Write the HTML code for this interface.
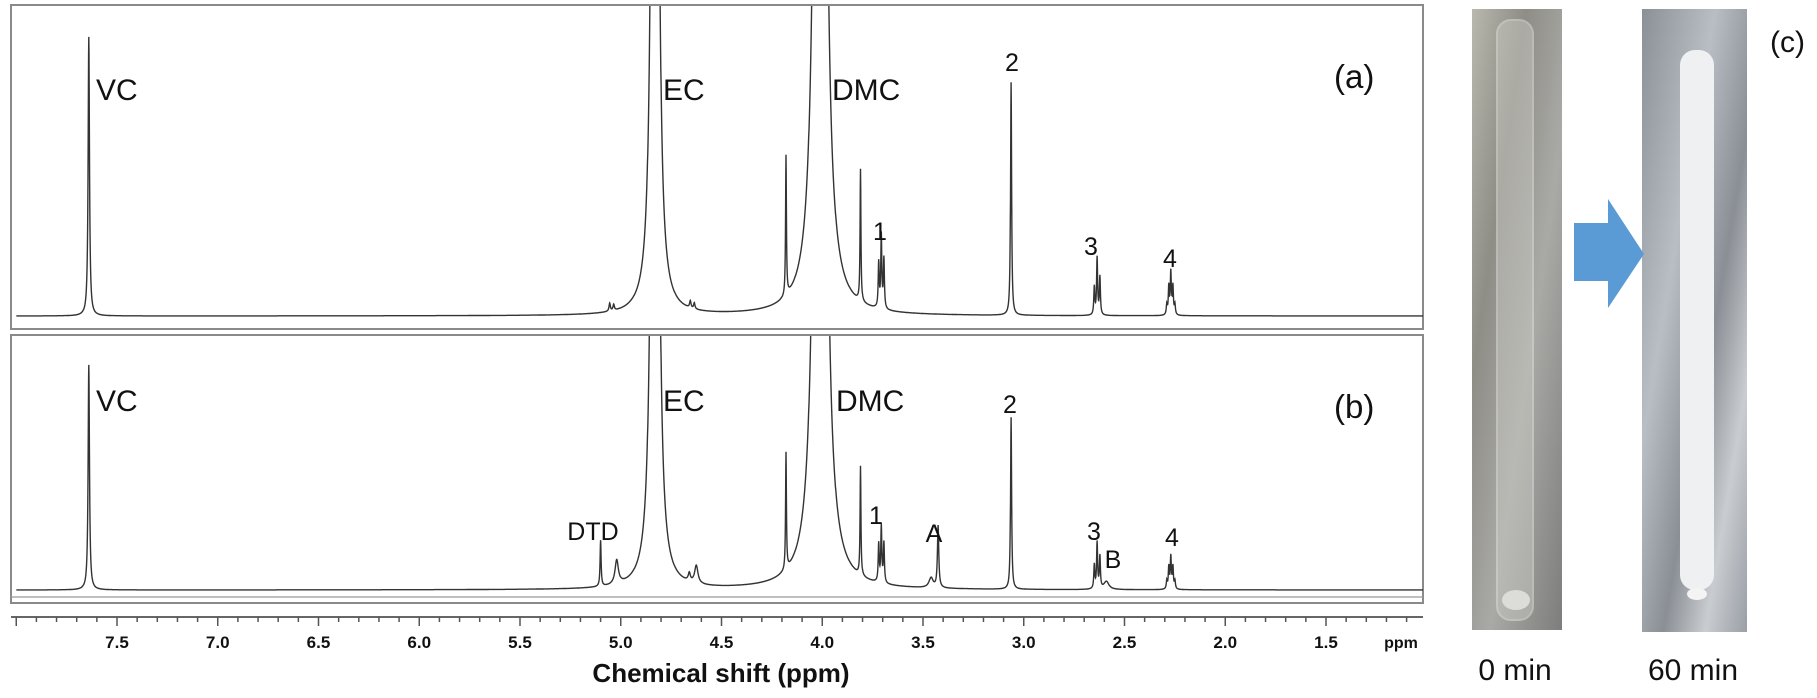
<!DOCTYPE html>
<html><head><meta charset="utf-8"><style>
html,body{margin:0;padding:0;background:#fff;}
svg{display:block;}
text{font-family:"Liberation Sans",sans-serif;fill:#111;}
</style></head><body>
<svg id="s" width="1817" height="698" viewBox="0 0 1817 698" xmlns="http://www.w3.org/2000/svg">
<defs>
<linearGradient id="p1" x1="0" x2="1" y1="0" y2="1">
<stop offset="0" stop-color="#b9b8ae"/><stop offset="0.3" stop-color="#8e8d86"/><stop offset="0.6" stop-color="#a9a9a6"/><stop offset="1" stop-color="#7d7e7c"/></linearGradient>
<linearGradient id="p2" x1="0" x2="1" y1="0" y2="1">
<stop offset="0" stop-color="#8b9096"/><stop offset="0.35" stop-color="#b9bec4"/><stop offset="0.6" stop-color="#8a8f95"/><stop offset="0.8" stop-color="#c9ccd0"/><stop offset="1" stop-color="#9a9fa6"/></linearGradient>
<clipPath id="ca"><rect x="11" y="6" width="1412" height="323"/></clipPath>
<clipPath id="cb"><rect x="11" y="336" width="1412" height="261"/></clipPath>
</defs>
<rect x="11" y="5" width="1412" height="324" fill="none" stroke="#8a8a8a" stroke-width="2"/>
<rect x="11" y="335" width="1412" height="268" fill="none" stroke="#8a8a8a" stroke-width="2"/>
<line x1="11" y1="597" x2="1423" y2="597" stroke="#999" stroke-width="1.2"/>
<path id="sa" clip-path="url(#ca)" fill="none" stroke="#333" stroke-width="1.4"/>
<path id="sb" clip-path="url(#cb)" fill="none" stroke="#333" stroke-width="1.4"/>
<line x1="11" y1="617" x2="1423" y2="617" stroke="#666" stroke-width="2"/>
<g id="ticks" stroke="#555" stroke-width="1.5"></g>
<g font-size="17" font-weight="bold" text-anchor="middle" id="tl"></g>
<text x="1401" y="648" font-size="16" font-weight="bold" text-anchor="middle">ppm</text>
<text x="721" y="682" font-size="26" font-weight="bold" text-anchor="middle">Chemical shift (ppm)</text>

<g font-size="30">
<text x="96" y="100">VC</text><text x="663" y="100">EC</text><text x="832" y="100">DMC</text>
<text x="96" y="411">VC</text><text x="663" y="411">EC</text><text x="836" y="411">DMC</text>
<text x="1334" y="88" font-size="33">(a)</text>
<text x="1334" y="418" font-size="33">(b)</text>
</g>
<g font-size="25" text-anchor="middle">
<text x="1012" y="71">2</text><text x="880" y="240">1</text><text x="1091" y="255">3</text><text x="1170" y="267">4</text>
<text x="1010" y="413">2</text><text x="876" y="524">1</text><text x="1094" y="540">3</text><text x="1172" y="546">4</text>
<text x="934" y="542">A</text><text x="1113" y="568">B</text><text x="593" y="540">DTD</text>
</g>

<!-- photos -->
<rect x="1472" y="9" width="90" height="621" fill="url(#p1)"/>
<rect x="1497" y="20" width="36" height="600" rx="14" fill="#c8c8c2" opacity="0.5" stroke="#e4e4e0" stroke-width="2"/>
<ellipse cx="1516" cy="600" rx="14" ry="10" fill="#dcdcd8"/>
<rect x="1642" y="9" width="105" height="623" fill="url(#p2)"/>
<rect x="1680" y="50" width="34" height="540" rx="15" fill="#eef0f2"/>
<ellipse cx="1697" cy="594" rx="10" ry="6" fill="#f4f4f4"/>
<polygon points="1574,223 1608,223 1608,199 1644,254 1608,308 1608,281 1574,281" fill="#5b9bd5"/>
<text x="1770" y="52" font-size="30">(c)</text>
<text x="1515" y="680" font-size="30" text-anchor="middle">0 min</text>
<text x="1693" y="680" font-size="30" text-anchor="middle">60 min</text>
</svg>
<script>
function X(p){return 117+(7.5-p)*201.5;}
function L(p,c,h,w){var d=(p-c)/w;return h/(1+d*d);}
var A=[[7.64,279,.004],[5.055,8,.004],[5.035,6,.004],[4.83,6000,.006],[4.655,7,.004],[4.635,6,.004],
[4.18,140,.0025],[4.01,6000,.01],[3.81,132,.0025],[3.72,45,.003],[3.707,73,.003],[3.694,50,.003],
[3.063,233,.003],[2.65,28,.003],[2.636,57,.003],[2.622,38,.003],
[2.29,10,.003],[2.28,28,.003],[2.27,42,.003],[2.26,28,.003],[2.25,10,.003]];
var B=[[7.64,225,.004],[4.83,6000,.006],[4.18,117,.0025],[4.01,6000,.01],[3.81,109,.0025],
[3.72,38,.003],[3.707,56,.003],[3.694,40,.003],[3.063,172,.003],
[2.65,24,.003],[2.636,46,.003],[2.622,32,.003],
[2.29,8,.003],[2.28,22,.003],[2.27,32,.003],[2.26,22,.003],[2.25,8,.003],
[5.10,46,.003],[5.02,24,.01],[4.625,18,.01],[4.66,8,.006],[3.425,62,.004],[3.46,10,.012],[2.59,8,.015]];
function path(P,base){var s="";for(var p=8.0;p>=1.0;p-=0.001){var y=0;for(var i=0;i<P.length;i++)y+=L(p,P[i][0],P[i][1],P[i][2]);var yy=base-Math.min(y,400);s+=(s?"L":"M")+X(p).toFixed(1)+" "+yy.toFixed(1);}return s;}
document.getElementById("sa").setAttribute("d",path(A,316));
document.getElementById("sb").setAttribute("d",path(B,590));
var g=document.getElementById("ticks"),t=document.getElementById("tl"),ns="http://www.w3.org/2000/svg";
for(var k=10;k<=80;k++){var p=k/10,x=X(p);if(x<11||x>1423)continue;var l=document.createElementNS(ns,"line");var maj=(k%5==0);
l.setAttribute("x1",x);l.setAttribute("x2",x);l.setAttribute("y1",617);l.setAttribute("y2",maj?626:622);g.appendChild(l);
if(maj&&k>=15&&k<=75){var tx=document.createElementNS(ns,"text");tx.setAttribute("x",x);tx.setAttribute("y",648);tx.textContent=p.toFixed(1);t.appendChild(tx);}}
</script>
</body></html>
